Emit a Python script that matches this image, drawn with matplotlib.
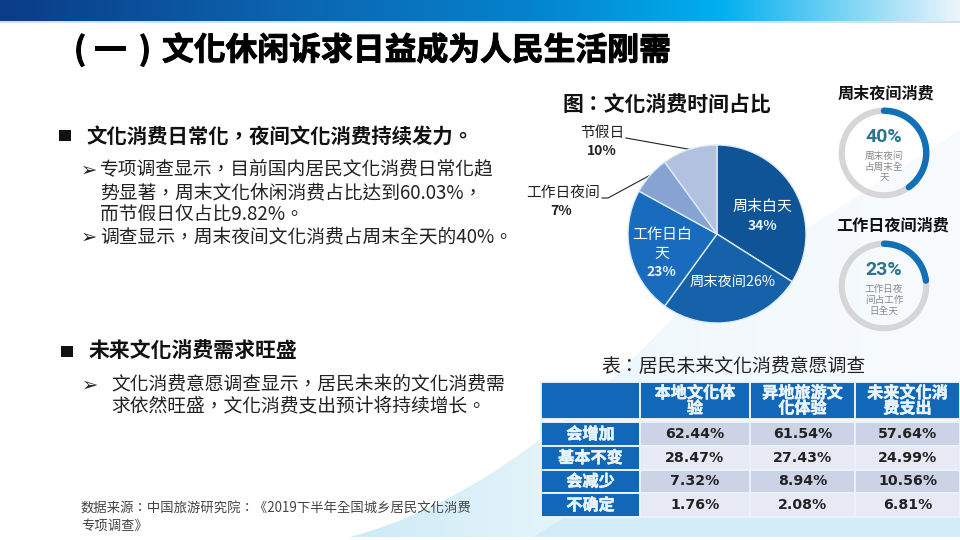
import numpy as np
import matplotlib
matplotlib.use('Agg')
from matplotlib import pyplot as plt
from matplotlib import patheffects
from matplotlib.patches import PathPatch, Polygon, Rectangle
from matplotlib.path import Path

# TC 글꼴: 문장부호가 칸 가운데에 놓임 (원본과 같음)
plt.rcParams['font.family'] = ['Noto Sans CJK TC', 'DejaVu Sans']

W, H = 960, 540

# 饼图数据
pie_labels = ['周末白天', '周末夜间', '工作日白天', '工作日夜间', '节假日']
pie_values = [34, 26, 23, 7, 10]
pie_colors = ['#0f5496', '#1562ab', '#196cbd', '#86a3d3', '#b1c1df']

# 圆环数据
ring_values = [40, 23]
ring_titles = ['周末夜间消费', '工作日夜间消费']
ring_notes = ['周末夜间\n占周末全\n天', '工作日夜\n间占工作\n日全天']

# 表格数据
col_labels = ['', '本地文化体\n验', '异地旅游文\n化体验', '未来文化消\n费支出']
row_labels = ['会增加', '基本不变', '会减少', '不确定']
local_vals = ['62.44%', '28.47%', '7.32%', '1.76%']
other_vals = ['61.54%', '27.43%', '8.94%', '2.08%']
spend_vals = ['57.64%', '24.99%', '10.56%', '6.81%']


def px_axes(x0, y0, x1, y1, **kw):
    # 픽셀 좌표(위쪽 원점)로 축 만들기
    return fig.add_axes([x0 / W, 1 - y1 / H, (x1 - x0) / W, (y1 - y0) / H], **kw)


def h_gradient(pos, colors, n=480):
    rgb = np.array([matplotlib.colors.to_rgb(c) for c in colors])
    xs = np.linspace(0, 1, n)
    return np.stack([np.interp(xs, pos, rgb[:, i]) for i in range(3)], axis=1)[None, :, :]


fig = plt.figure(figsize=(9.6, 5.4), dpi=100)

# 배경 --------------------------------------------
bg = px_axes(0, 0, W, H)
bg.axis('off')

# 연한 파란 배경 장식
swoosh = PathPatch(Path([(350, 537), (510, 495), (680, 310), (960, 130), (960, 537), (350, 537)],
                        [Path.MOVETO, Path.CURVE3, Path.CURVE3, Path.LINETO, Path.LINETO, Path.CLOSEPOLY]),
                   transform=bg.transData, fc='none', lw=0)
bg.add_patch(swoosh)
im = bg.imshow(h_gradient([0, 0.3, 0.5, 1], ['#cdeaf6', '#e2f3fa', '#f1f8fc', '#f8fbfe']),
               extent=(350, W, 537, 130), aspect='auto', zorder=0)
im.set_clip_path(swoosh)
bg.add_patch(Polygon([(533, 537), (565, 517), (960, 517), (960, 537)], color='#d3edf8', lw=0, zorder=0.5))

# 상단 그라데이션 띠
bg.imshow(h_gradient([0, 0.3, 0.55, 0.75, 1], ['#0a3c87', '#0c64af', '#0582cd', '#00aeef', '#ebf5fa']),
          extent=(0, W, 21, 0), aspect='auto', zorder=1)
bg.add_patch(Rectangle((0, 21), W, 2, color='#d5e2ee', lw=0))
bg.set_xlim(0, W)
bg.set_ylim(H, 0)

# 텍스트 ------------------------------------------
stroke = [patheffects.withStroke(linewidth=0.7, foreground='black')]
for x, s in zip([80, 110, 145], ['(', '一', ')']):
    bg.text(x, 51, s, fontsize=22.9, fontweight='bold', color='black', va='center', ha='center', path_effects=stroke)
bg.text(162, 51, '文化休闲诉求日益成为人民生活刚需', fontsize=22.9, fontweight='bold',
        color='black', va='center', ha='left', path_effects=stroke)

bg.add_patch(Rectangle((59, 130), 12, 11, color='#111111', lw=0))
bg.text(87, 136, '文化消费日常化，夜间文化消费持续发力。', fontsize=14.7, fontweight='bold',
        va='center', color='#111111')
body1 = ['专项调查显示，目前国内居民文化消费日常化趋', '势显著，周末文化休闲消费占比达到60.03%，',
         '而节假日仅占比9.82%。', '调查显示，周末夜间文化消费占周末全天的40%。']
for y, line in zip([170, 193, 215, 237], body1):
    bg.text(100, y, line, fontsize=13.5, va='center', color='#222222')
for y in [170, 237]:
    bg.text(81, y, '➢', fontsize=14, va='center', color='#222222')

bg.add_patch(Rectangle((61, 346), 12, 11, color='#111111', lw=0))
bg.text(89, 351, '未来文化消费需求旺盛', fontsize=15, fontweight='bold', va='center', color='#111111')
bg.text(82, 385, '➢', fontsize=14, va='center', color='#222222')
bg.text(111, 384, '文化消费意愿调查显示，居民未来的文化消费需', fontsize=13.5, va='center', color='#222222')
bg.text(111, 406, '求依然旺盛，文化消费支出预计将持续增长。', fontsize=13.5, va='center', color='#222222')

bg.text(81, 509, '数据来源：中国旅游研究院：《2019下半年全国城乡居民文化消费', fontsize=9.6, va='center', color='#444444')
bg.text(81, 526, '专项调查》', fontsize=9.6, va='center', color='#444444')

bg.text(667, 105, '图：文化消费时间占比', fontsize=15, fontweight='bold', ha='center', va='center', color='#111111')
bg.text(733, 366, '表：居民未来文化消费意愿调查', fontsize=13.6, ha='center', va='center', color='#222222')

# 파이 차트 ----------------------------------------
cx, cy, r = 717, 234, 89
ax = px_axes(cx - r, cy - r, cx + r, cy + r)
ax.pie(pie_values, colors=pie_colors, startangle=90, counterclock=False, radius=1,
       wedgeprops=dict(edgecolor='#dcebf5', linewidth=1))
ax.set_xlim(-1, 1)
ax.set_ylim(-1, 1)

# 지시선: 조각 중앙 각도에서 계산
fr = np.cumsum(pie_values) / np.sum(pie_values)
mid_night = (fr[3] + fr[2]) / 2 * 2 * np.pi
mid_hol = (fr[4] + fr[3]) / 2 * 2 * np.pi
bg.plot([626, cx + r * np.sin(mid_hol)], [138, cy - r * np.cos(mid_hol)], color='#222222', lw=0.8, zorder=3)
bg.plot([602, 608, cx + r * np.sin(mid_night)], [198, 198, cy - r * np.cos(mid_night)], color='#222222', lw=0.8, zorder=3)

over = px_axes(0, 0, W, H)
over.set_xlim(0, W)
over.set_ylim(H, 0)
over.axis('off')
over.patch.set_alpha(0)
white = dict(ha='center', va='center', color='white')
over.text(763, 207, pie_labels[0], fontsize=10.8, **white)
over.text(763, 226, f'{pie_values[0]}%', fontsize=10, fontweight='bold', ha='center', va='center', color='#e4f2f8')
over.text(733, 282, f'{pie_labels[1]}{pie_values[1]}%', fontsize=10.3, **white)
over.text(662, 235, pie_labels[2][:4], fontsize=10.8, **white)
over.text(662, 254, pie_labels[2][4:], fontsize=10.8, **white)
over.text(661, 272, f'{pie_values[2]}%', fontsize=10, fontweight='bold', ha='center', va='center', color='#e4f2f8')
dark = dict(ha='center', va='center', color='#222222')
over.text(563, 193, pie_labels[3], fontsize=10.6, **dark)
over.text(561, 211, f'{pie_values[3]}%', fontsize=10, fontweight='bold', **dark)
over.text(602, 133, pie_labels[4], fontsize=10.6, **dark)
over.text(602, 151, f'{pie_values[4]}%', fontsize=10, fontweight='bold', **dark)

# 원형 링 ------------------------------------------
ring_xy = [(884, 153), (884, 286)]
title_xy = [(886, 94), (893, 226)]
for (x, y), val, ttl_txt, note, (tx, ty) in zip(ring_xy, ring_values, ring_titles, ring_notes, title_xy):
    pa = px_axes(x - 48, y - 48, x + 48, y + 48, projection='polar')
    pa.set_theta_zero_location('N')
    pa.set_theta_direction(-1)
    pa.set_ylim(0, 1)
    pa.axis('off')
    pa.patch.set_alpha(0)
    th = np.linspace(0, 2 * np.pi, 200)
    pa.plot(th, np.full_like(th, 0.88), color='#d6d6d6', lw=4.4)
    th = np.linspace(0, 2 * np.pi * val / 100, 100)
    pa.plot(th, np.full_like(th, 0.88), color='#1170b8', lw=4.6, solid_capstyle='round')
    over.text(tx, ty, ttl_txt, fontsize=11.6, fontweight='bold', ha='center', va='center', color='#111111')
    over.text(x, y - 16, f'{val}%', fontsize=14, fontweight='bold', ha='center', va='center', color='#2a7391',
              family=['Roboto', 'DejaVu Sans'])
    over.text(x, y + 14, note, fontsize=6.9, ha='center', va='center', color='#8a8a8a', linespacing=1.2)

# 표 ---------------------------------------------
tb_ax = px_axes(541, 382, 960, 517)
tb_ax.axis('off')
spacer = ['', '', '', '']
rows = [col_labels, spacer] + [[row_labels[i], local_vals[i], other_vals[i], spend_vals[i]] for i in range(4)]
tb = tb_ax.table(cellText=rows, bbox=[0, 0, 1, 1], colWidths=[99, 110, 105, 105], cellLoc='center')
tb.auto_set_font_size(False)
row_h = [37, 3, 23.5, 23.5, 23.5, 23.5]
for (i, j), cell in tb.get_celld().items():
    cell.set_height(row_h[i])
    cell.set_edgecolor('#e8f3fa')
    cell.set_linewidth(1.4)
    txt = cell.get_text()
    if i == 1:
        cell.set_facecolor('none')
        cell.set_linewidth(0)
    elif i == 0 or j == 0:
        cell.set_facecolor('#1268b8')
        txt.set_color('#eaf4fb')
        txt.set_fontweight('bold')
        txt.set_fontsize(11.6)
        txt.set_linespacing(0.95)
        txt.set_path_effects([patheffects.withStroke(linewidth=0.4, foreground='#eaf4fb')])
    else:
        cell.set_facecolor('#ccd3e6' if i % 2 == 0 else '#e7eaf4')
        txt.set_color('#222222')
        txt.set_fontweight('bold')
        txt.set_fontsize(10.2)
        txt.set_family(['DejaVu Sans'])

fig.savefig('out.png', dpi=100)
